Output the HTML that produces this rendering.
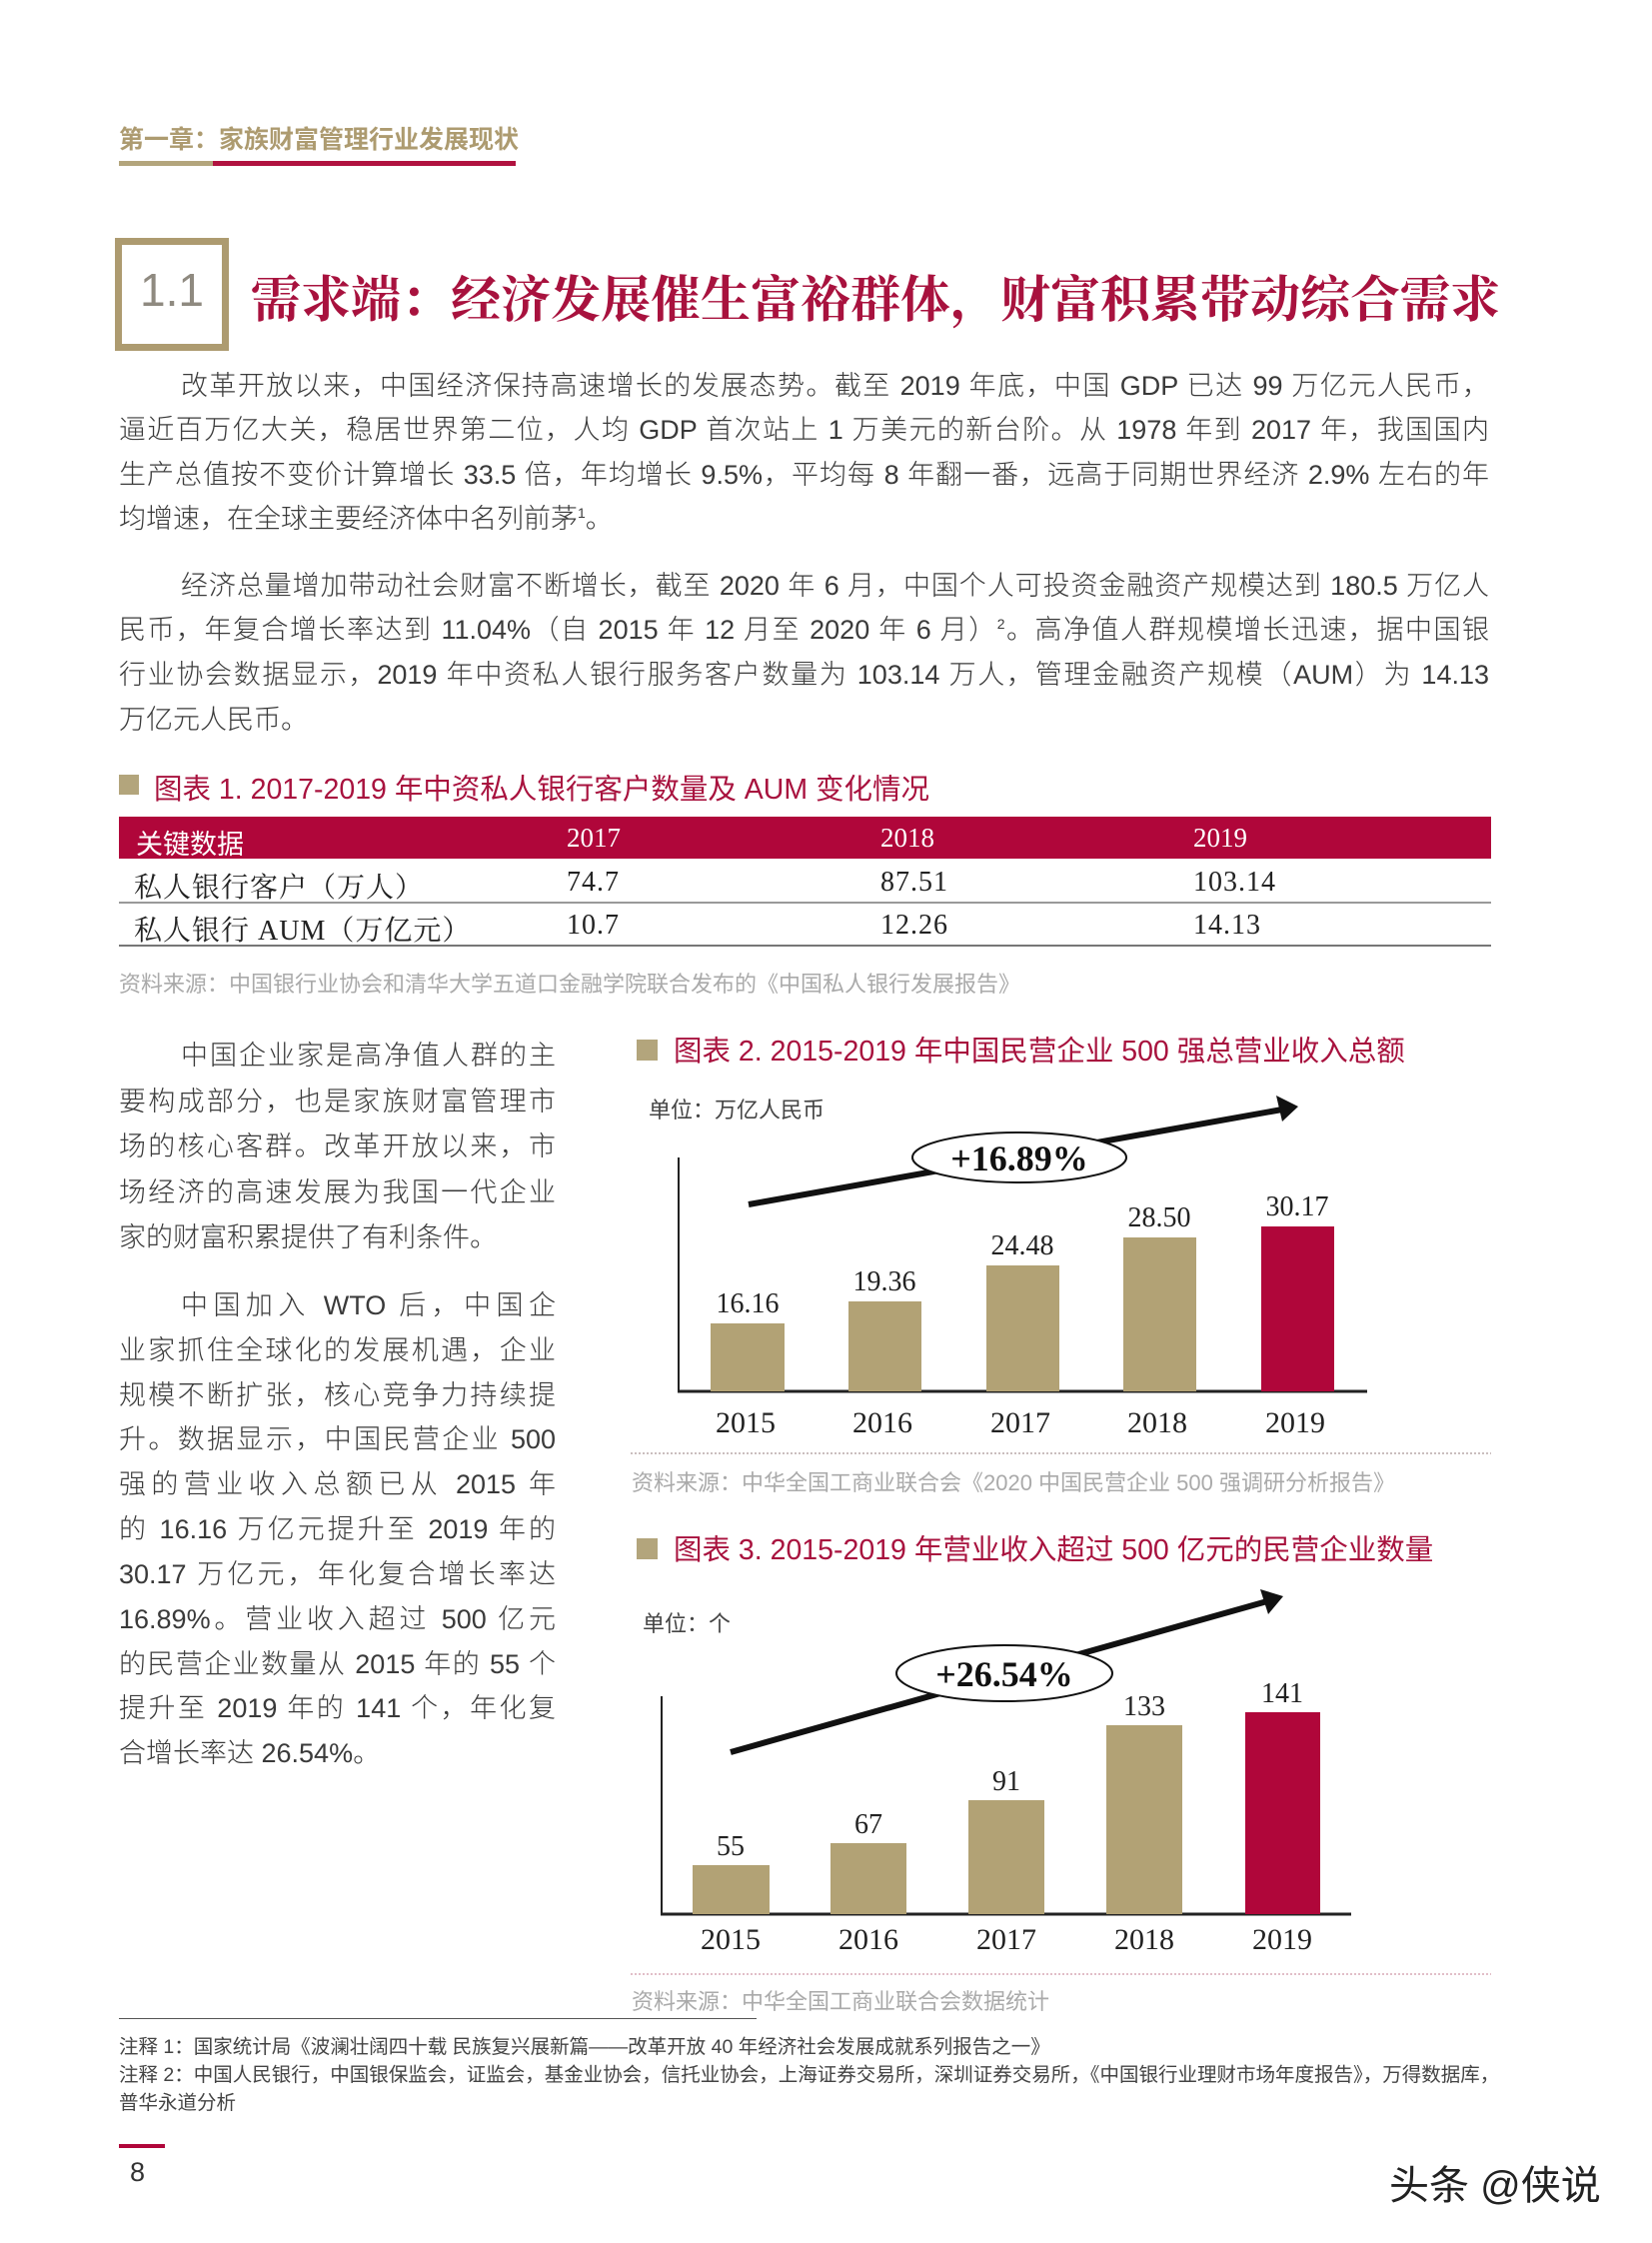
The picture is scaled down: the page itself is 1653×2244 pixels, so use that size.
<!DOCTYPE html>
<html><head><meta charset="utf-8">
<style>
html,body{margin:0;padding:0;background:#fff;}
body{width:1653px;height:2244px;position:relative;overflow:hidden;font-family:"Liberation Sans","Noto Sans CJK SC",sans-serif;color:#3a3a3a;}
.a{position:absolute;white-space:nowrap;}
.j{position:absolute;white-space:nowrap;text-align:justify;text-align-last:justify;font-size:27px;line-height:34px;font-weight:300;color:#3a3a3a;}
.nj{text-align-last:left;}
.ser{font-family:"Liberation Serif","Noto Serif CJK SC",serif;}
sup{font-size:14px;vertical-align:10px;line-height:0;}
.tc{font-size:28px;color:#222;letter-spacing:1px;}
</style></head><body>
<!-- header -->
<div class="a" style="left:119px;top:120px;font-size:25px;color:#ad9b70;font-weight:bold;">第一章：家族财富管理行业发展现状</div>
<div class="a" style="left:119px;top:161px;width:94px;height:5px;background:#b3a57c;"></div>
<div class="a" style="left:213px;top:161px;width:303px;height:5px;background:#b0123f;"></div>
<!-- section box -->
<div class="a" style="left:115px;top:238px;width:100px;height:99px;border:7px solid #ad9b70;"></div>
<div class="a" style="left:115px;top:263px;width:114px;text-align:center;font-size:46px;color:#8f8a80;">1.1</div>
<div class="a" style="left:251px;top:260px;font-size:50px;font-weight:bold;color:#a8123e;font-family:'Noto Serif CJK SC',serif;">需求端：经济发展催生富裕群体，财富积累带动综合需求</div>
<!-- para 1 -->
<div class="j" style="left:181px;top:369px;width:1309px;">改革开放以来，中国经济保持高速增长的发展态势。截至 2019 年底，中国 GDP 已达 99 万亿元人民币，</div>
<div class="j" style="left:119px;top:413px;width:1371px;">逼近百万亿大关，稳居世界第二位，人均 GDP 首次站上 1 万美元的新台阶。从 1978 年到 2017 年，我国国内</div>
<div class="j" style="left:119px;top:458px;width:1371px;">生产总值按不变价计算增长 33.5 倍，年均增长 9.5%，平均每 8 年翻一番，远高于同期世界经济 2.9% 左右的年</div>
<div class="j nj" style="left:119px;top:502px;">均增速，在全球主要经济体中名列前茅<sup>1</sup>。</div>
<!-- para 2 -->
<div class="j" style="left:181px;top:569px;width:1309px;">经济总量增加带动社会财富不断增长，截至 2020 年 6 月，中国个人可投资金融资产规模达到 180.5 万亿人</div>
<div class="j" style="left:119px;top:613px;width:1371px;">民币，年复合增长率达到 11.04%（自 2015 年 12 月至 2020 年 6 月）<sup>2</sup>。高净值人群规模增长迅速，据中国银</div>
<div class="j" style="left:119px;top:658px;width:1371px;">行业协会数据显示，2019 年中资私人银行服务客户数量为 103.14 万人，管理金融资产规模（AUM）为 14.13</div>
<div class="j nj" style="left:119px;top:703px;">万亿元人民币。</div>
<!-- chart 1 table -->
<div class="a" style="left:119px;top:775px;width:20px;height:20px;background:#b3a57c;"></div>
<div class="a" style="left:154px;top:767px;font-size:28.5px;color:#a8123e;">图表 1. 2017-2019 年中资私人银行客户数量及 AUM 变化情况</div>
<div class="a" style="left:119px;top:817px;width:1373px;height:42px;background:#b0063a;"></div>
<div class="a" style="left:136px;top:823px;font-size:27px;color:#fff;">关键数据</div>
<div class="a ser" style="left:567px;top:823px;font-size:27px;color:#fff;">2017</div>
<div class="a ser" style="left:881px;top:823px;font-size:27px;color:#fff;">2018</div>
<div class="a ser" style="left:1194px;top:823px;font-size:27px;color:#fff;">2019</div>
<div class="a ser tc" style="left:134px;top:866px;">私人银行客户（万人）</div>
<div class="a ser tc" style="left:567px;top:867px;">74.7</div>
<div class="a ser tc" style="left:881px;top:867px;">87.51</div>
<div class="a ser tc" style="left:1194px;top:867px;">103.14</div>
<div class="a" style="left:119px;top:902px;width:1373px;height:2px;background:#999;"></div>
<div class="a ser tc" style="left:134px;top:909px;">私人银行 AUM（万亿元）</div>
<div class="a ser tc" style="left:567px;top:910px;">10.7</div>
<div class="a ser tc" style="left:881px;top:910px;">12.26</div>
<div class="a ser tc" style="left:1194px;top:910px;">14.13</div>
<div class="a" style="left:119px;top:945px;width:1373px;height:2px;background:#777;"></div>
<div class="a" style="left:119px;top:967px;font-size:22px;color:#aaa;">资料来源：中国银行业协会和清华大学五道口金融学院联合发布的《中国私人银行发展报告》</div>
<!-- left column -->
<div class="j" style="left:181px;top:1039px;width:375px;">中国企业家是高净值人群的主</div>
<div class="j" style="left:119px;top:1085px;width:437px;">要构成部分，也是家族财富管理市</div>
<div class="j" style="left:119px;top:1130px;width:437px;">场的核心客群。改革开放以来，市</div>
<div class="j" style="left:119px;top:1176px;width:437px;">场经济的高速发展为我国一代企业</div>
<div class="j nj" style="left:119px;top:1221px;">家的财富积累提供了有利条件。</div>
<div class="j" style="left:181px;top:1289px;width:375px;">中国加入 WTO 后，中国企</div>
<div class="j" style="left:119px;top:1334px;width:437px;">业家抓住全球化的发展机遇，企业</div>
<div class="j" style="left:119px;top:1379px;width:437px;">规模不断扩张，核心竞争力持续提</div>
<div class="j" style="left:119px;top:1423px;width:437px;">升。数据显示，中国民营企业 500</div>
<div class="j" style="left:119px;top:1468px;width:437px;">强的营业收入总额已从 2015 年</div>
<div class="j" style="left:119px;top:1513px;width:437px;">的 16.16 万亿元提升至 2019 年的</div>
<div class="j" style="left:119px;top:1558px;width:437px;">30.17 万亿元，年化复合增长率达</div>
<div class="j" style="left:119px;top:1603px;width:437px;">16.89%。营业收入超过 500 亿元</div>
<div class="j" style="left:119px;top:1648px;width:437px;">的民营企业数量从 2015 年的 55 个</div>
<div class="j" style="left:119px;top:1692px;width:437px;">提升至 2019 年的 141 个，年化复</div>
<div class="j nj" style="left:119px;top:1737px;">合增长率达 26.54%。</div>
<!-- charts -->
<svg class="a" style="left:0;top:0" width="1653" height="2244" xmlns="http://www.w3.org/2000/svg">
<g font-family="Liberation Sans, Noto Sans CJK SC, sans-serif">
<rect x="637" y="1040" width="21" height="21" fill="#b3a57c"/>
<text x="674" y="1061" font-size="28.5" fill="#a8123e">图表 2. 2015-2019 年中国民营企业 500 强总营业收入总额</text>
<text x="649" y="1118" font-size="22" fill="#444">单位：万亿人民币</text>
<line x1="679" y1="1158" x2="679" y2="1392" stroke="#222" stroke-width="2"/>
<line x1="678" y1="1392" x2="1368" y2="1392" stroke="#222" stroke-width="3"/>
<rect x="711" y="1324" width="74" height="68" fill="#b2a275"/>
<rect x="849" y="1302" width="73" height="90" fill="#b2a275"/>
<rect x="987" y="1266" width="73" height="126" fill="#b2a275"/>
<rect x="1124" y="1238" width="73" height="154" fill="#b2a275"/>
<rect x="1262" y="1227" width="73" height="165" fill="#b0063a"/>
<g font-family="Liberation Serif, serif" fill="#222" text-anchor="middle">
<g font-size="28"><text x="748" y="1313">16.16</text><text x="885" y="1291">19.36</text><text x="1023" y="1255">24.48</text><text x="1160" y="1227">28.50</text><text x="1298" y="1216">30.17</text></g>
<g font-size="30"><text x="746" y="1433">2015</text><text x="883" y="1433">2016</text><text x="1021" y="1433">2017</text><text x="1158" y="1433">2018</text><text x="1296" y="1433">2019</text></g>
</g>
<line x1="749" y1="1205" x2="1283" y2="1110" stroke="#111" stroke-width="6"/>
<polygon points="1299,1107 1277,1096 1283,1122" fill="#111"/>
<ellipse cx="1020" cy="1158" rx="107" ry="25" fill="#fff" stroke="#111" stroke-width="2"/>
<text x="1020" y="1171" font-family="Liberation Serif, serif" font-weight="bold" font-size="36" fill="#111" text-anchor="middle">+16.89%</text>
<line x1="631" y1="1454" x2="1492" y2="1454" stroke="#b9a9a9" stroke-width="1.5" stroke-dasharray="2,2"/>
<text x="632" y="1491" font-size="22" fill="#aaa">资料来源：中华全国工商业联合会《2020 中国民营企业 500 强调研分析报告》</text>

<rect x="637" y="1539" width="21" height="21" fill="#b3a57c"/>
<text x="674" y="1560" font-size="28.5" fill="#a8123e">图表 3. 2015-2019 年营业收入超过 500 亿元的民营企业数量</text>
<text x="643" y="1632" font-size="22" fill="#444">单位：个</text>
<line x1="662" y1="1697" x2="662" y2="1915" stroke="#222" stroke-width="2"/>
<line x1="661" y1="1915" x2="1352" y2="1915" stroke="#222" stroke-width="3"/>
<rect x="693" y="1866" width="77" height="49" fill="#b2a275"/>
<rect x="831" y="1844" width="76" height="71" fill="#b2a275"/>
<rect x="969" y="1801" width="76" height="114" fill="#b2a275"/>
<rect x="1107" y="1726" width="76" height="189" fill="#b2a275"/>
<rect x="1246" y="1713" width="75" height="202" fill="#b0063a"/>
<g font-family="Liberation Serif, serif" fill="#222" text-anchor="middle">
<g font-size="28"><text x="731" y="1856">55</text><text x="869" y="1834">67</text><text x="1007" y="1791">91</text><text x="1145" y="1716">133</text><text x="1283" y="1703">141</text></g>
<g font-size="30"><text x="731" y="1950">2015</text><text x="869" y="1950">2016</text><text x="1007" y="1950">2017</text><text x="1145" y="1950">2018</text><text x="1283" y="1950">2019</text></g>
</g>
<line x1="731" y1="1753" x2="1268" y2="1602" stroke="#111" stroke-width="6"/>
<polygon points="1284,1597 1261,1590 1269,1615" fill="#111"/>
<ellipse cx="1005" cy="1674" rx="108" ry="28" fill="#fff" stroke="#111" stroke-width="2"/>
<text x="1005" y="1687" font-family="Liberation Serif, serif" font-weight="bold" font-size="36" fill="#111" text-anchor="middle">+26.54%</text>
<line x1="631" y1="1975" x2="1492" y2="1975" stroke="#d9a9b5" stroke-width="1.5" stroke-dasharray="2,2"/>
<text x="632" y="2010" font-size="22" fill="#aaa">资料来源：中华全国工商业联合会数据统计</text>
</g>
</svg>
<!-- footnotes -->
<div class="a" style="left:119px;top:2019px;width:638px;height:1px;background:#555;"></div>
<div class="a" style="left:119px;top:2031px;font-size:19.5px;color:#444;">注释 1：国家统计局《波澜壮阔四十载 民族复兴展新篇——改革开放 40 年经济社会发展成就系列报告之一》</div>
<div class="a" style="left:119px;top:2059px;font-size:19.5px;color:#444;">注释 2：中国人民银行，中国银保监会，证监会，基金业协会，信托业协会，上海证券交易所，深圳证券交易所，《中国银行业理财市场年度报告》，万得数据库，</div>
<div class="a" style="left:119px;top:2087px;font-size:19.5px;color:#444;">普华永道分析</div>
<div class="a" style="left:119px;top:2145px;width:46px;height:4px;background:#b0063a;"></div>
<div class="a" style="left:130px;top:2158px;font-size:27px;color:#333;">8</div>
<div class="a" style="left:1390px;top:2154px;font-size:40px;color:#222;">头条 @侠说</div>
</body></html>
